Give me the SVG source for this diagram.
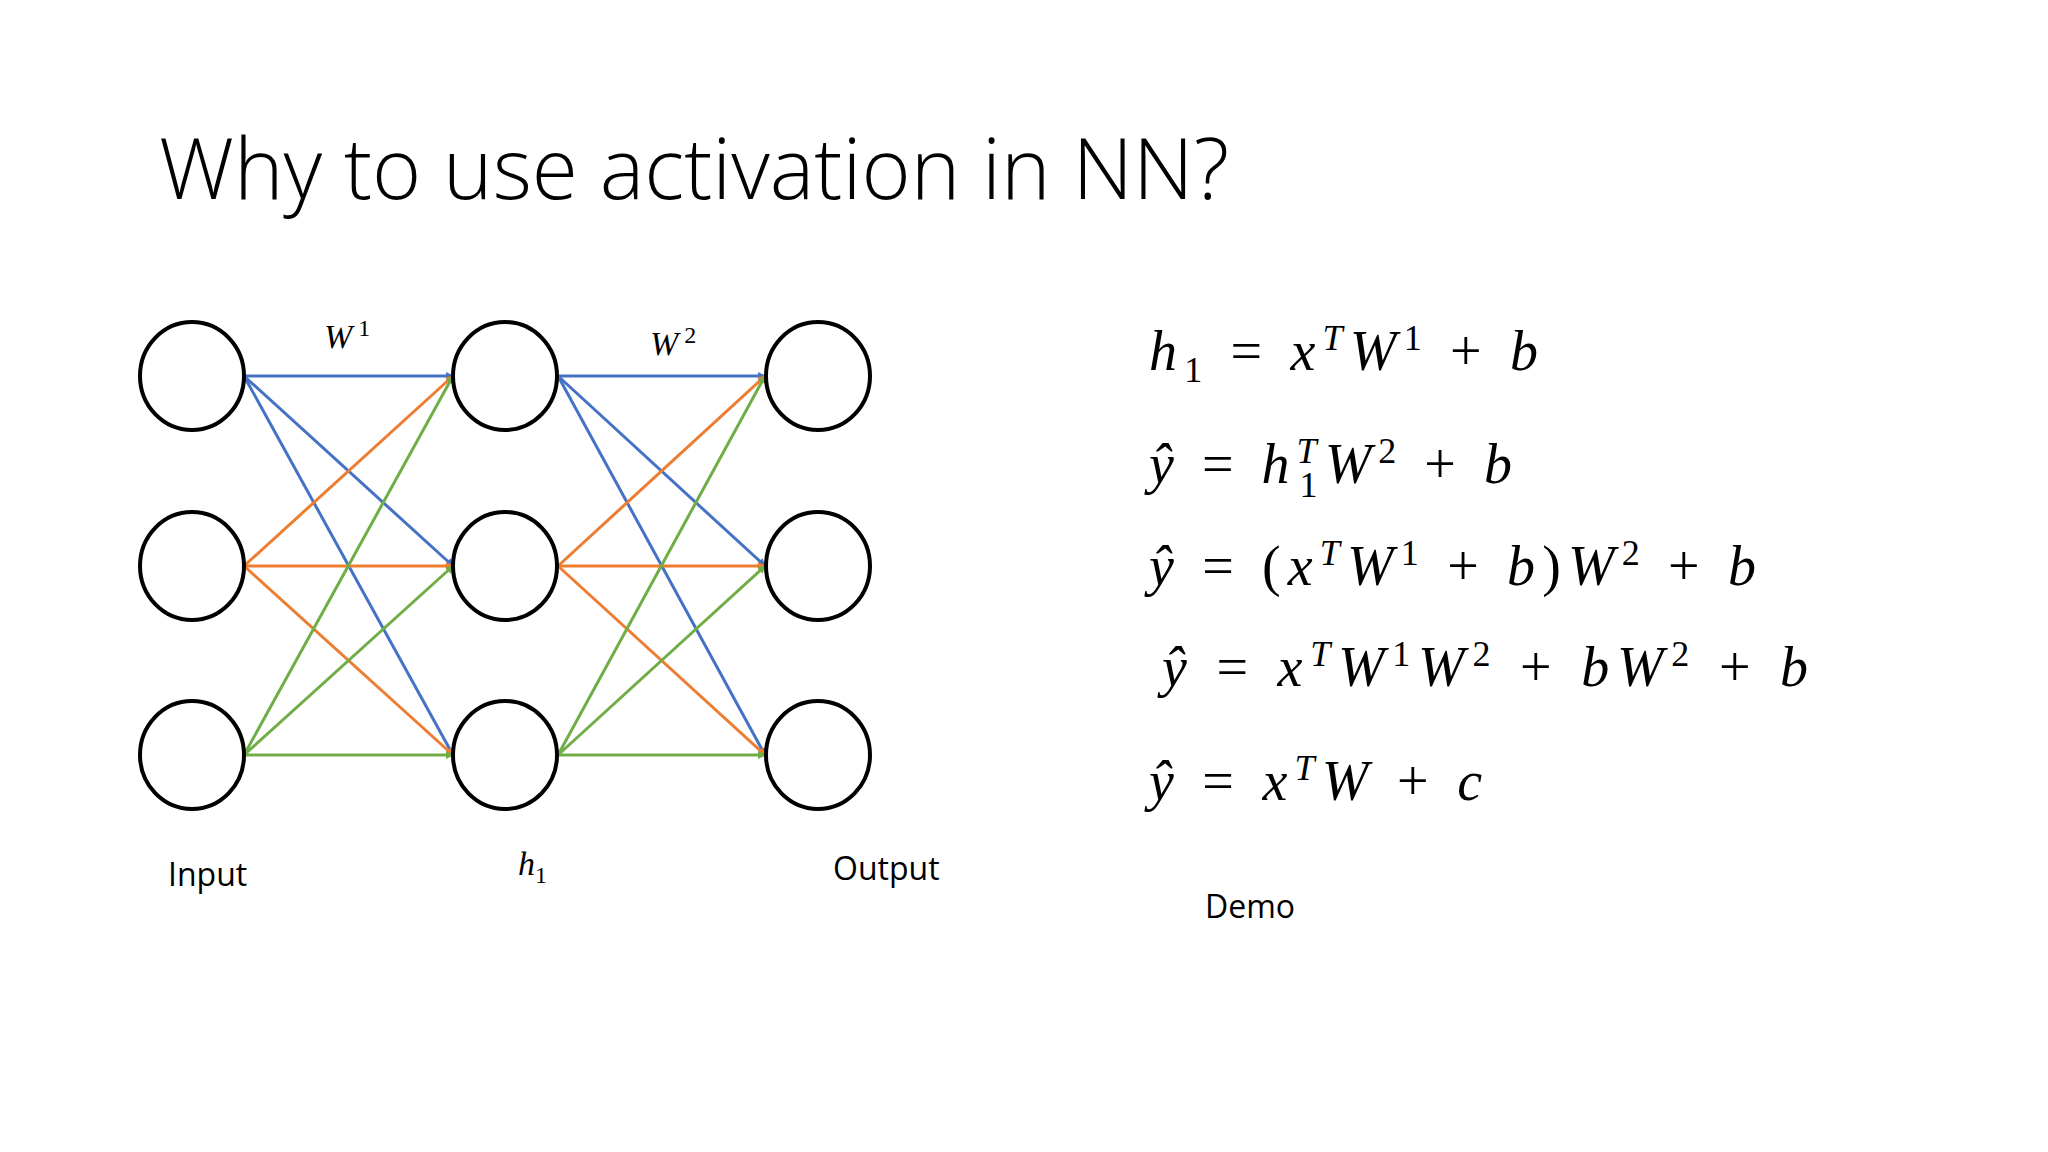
<svg xmlns="http://www.w3.org/2000/svg" width="2048" height="1152" viewBox="0 0 2048 1152">
<style>
.n{fill:#fff;stroke:#000;stroke-width:4}
.b{stroke:#4472C4;stroke-width:3;fill:none;marker-end:url(#ab)}
.o{stroke:#ED7D31;stroke-width:3;fill:none;marker-end:url(#ao)}
.g{stroke:#70AD47;stroke-width:3;fill:none;marker-end:url(#ag)}
.lbl{font-family:"Open Sans","Liberation Sans",sans-serif;font-size:32px;fill:#000}
.m{font-family:"Liberation Serif",serif;font-style:italic;font-size:56px;fill:#000}
.ms{font-family:"Liberation Serif",serif;font-style:italic;font-size:34px;fill:#000}
.sup{font-size:36px}
</style>
<defs>
<marker id="ab" markerWidth="8" markerHeight="8" refX="7" refY="4" orient="auto" markerUnits="userSpaceOnUse"><path d="M0,0L8,4L0,8z" fill="#4472C4"/></marker>
<marker id="ao" markerWidth="8" markerHeight="8" refX="7" refY="4" orient="auto" markerUnits="userSpaceOnUse"><path d="M0,0L8,4L0,8z" fill="#ED7D31"/></marker>
<marker id="ag" markerWidth="8" markerHeight="8" refX="7" refY="4" orient="auto" markerUnits="userSpaceOnUse"><path d="M0,0L8,4L0,8z" fill="#70AD47"/></marker>
</defs>
<rect width="2048" height="1152" fill="#fff"/>
<text x="159" y="199" font-family="'Open Sans','Liberation Sans',sans-serif" font-weight="300" font-size="84">Why to use activation in NN?</text>
<g id="connectors">
<line class="b" x1="244" y1="376" x2="453" y2="376"/>
<line class="b" x1="244" y1="376" x2="453" y2="566"/>
<line class="b" x1="244" y1="376" x2="453" y2="755"/>
<line class="o" x1="244" y1="566" x2="453" y2="376"/>
<line class="o" x1="244" y1="566" x2="453" y2="566"/>
<line class="o" x1="244" y1="566" x2="453" y2="755"/>
<line class="g" x1="244" y1="755" x2="453" y2="376"/>
<line class="g" x1="244" y1="755" x2="453" y2="566"/>
<line class="g" x1="244" y1="755" x2="453" y2="755"/>
<line class="b" x1="558" y1="376" x2="765" y2="376"/>
<line class="b" x1="558" y1="376" x2="765" y2="566"/>
<line class="b" x1="558" y1="376" x2="765" y2="755"/>
<line class="o" x1="558" y1="566" x2="765" y2="376"/>
<line class="o" x1="558" y1="566" x2="765" y2="566"/>
<line class="o" x1="558" y1="566" x2="765" y2="755"/>
<line class="g" x1="558" y1="755" x2="765" y2="376"/>
<line class="g" x1="558" y1="755" x2="765" y2="566"/>
<line class="g" x1="558" y1="755" x2="765" y2="755"/>
</g>
<g id="in1"><ellipse class="n" cx="192" cy="376" rx="52" ry="54"/></g>
<g id="in2"><ellipse class="n" cx="192" cy="566" rx="52" ry="54"/></g>
<g id="in3"><ellipse class="n" cx="192" cy="755" rx="52" ry="54"/></g>
<g id="h1"><ellipse class="n" cx="505" cy="376" rx="52" ry="54"/></g>
<g id="h2"><ellipse class="n" cx="505" cy="566" rx="52" ry="54"/></g>
<g id="h3"><ellipse class="n" cx="505" cy="755" rx="52" ry="54"/></g>
<g id="out1"><ellipse class="n" cx="818" cy="376" rx="52" ry="54"/></g>
<g id="out2"><ellipse class="n" cx="818" cy="566" rx="52" ry="54"/></g>
<g id="out3"><ellipse class="n" cx="818" cy="755" rx="52" ry="54"/></g>
<text class="ms" x="324" y="348">W<tspan font-style="normal" font-size="24" dx="6" dy="-12">1</tspan></text>
<text class="ms" x="650" y="355">W<tspan font-style="normal" font-size="24" dx="6" dy="-12">2</tspan></text>
<text class="lbl" x="168" y="886">Input</text>
<text class="ms" x="518" y="875">h<tspan font-style="normal" font-size="24" dy="8">1</tspan></text>
<text class="lbl" x="833" y="880">Output</text>
<text class="lbl" x="1205" y="918">Demo</text>
<text class="m" x="1149" y="370" textLength="389" lengthAdjust="spacing">h<tspan font-style="normal" class="sup" dy="12">1</tspan><tspan dy="-12" font-style="normal"> = </tspan>x<tspan class="sup" dy="-20">T</tspan><tspan dy="20">W</tspan><tspan class="sup" font-style="normal" dy="-20">1</tspan><tspan dy="20" font-style="normal"> + </tspan>b</text>
<text class="m" x="1149" y="483" textLength="363" lengthAdjust="spacing">ŷ<tspan font-style="normal"> = </tspan>h<tspan class="sup" dy="-20">T</tspan><tspan class="sup" font-style="normal" dx="-24" dy="34">1</tspan><tspan dy="-14">W</tspan><tspan class="sup" font-style="normal" dy="-20">2</tspan><tspan dy="20" font-style="normal"> + </tspan>b</text>
<text class="m" x="1149" y="585" textLength="607" lengthAdjust="spacing">ŷ<tspan font-style="normal"> = (</tspan>x<tspan class="sup" dy="-20">T</tspan><tspan dy="20">W</tspan><tspan class="sup" font-style="normal" dy="-20">1</tspan><tspan dy="20" font-style="normal"> + </tspan>b<tspan font-style="normal">)</tspan>W<tspan class="sup" font-style="normal" dy="-20">2</tspan><tspan dy="20" font-style="normal"> + </tspan>b</text>
<text class="m" x="1162" y="686" textLength="646" lengthAdjust="spacing">ŷ<tspan font-style="normal"> = </tspan>x<tspan class="sup" dy="-20">T</tspan><tspan dy="20">W</tspan><tspan class="sup" font-style="normal" dy="-20">1</tspan><tspan dy="20">W</tspan><tspan class="sup" font-style="normal" dy="-20">2</tspan><tspan dy="20" font-style="normal"> + </tspan>bW<tspan class="sup" font-style="normal" dy="-20">2</tspan><tspan dy="20" font-style="normal"> + </tspan>b</text>
<text class="m" x="1149" y="800" textLength="333" lengthAdjust="spacing">ŷ<tspan font-style="normal"> = </tspan>x<tspan class="sup" dy="-20">T</tspan><tspan dy="20">W</tspan><tspan font-style="normal"> + </tspan>c</text>
</svg>
